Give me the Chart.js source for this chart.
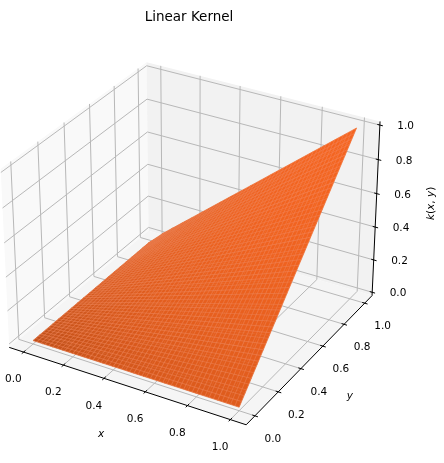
<!DOCTYPE html>
<html>
<head>
<meta charset="utf-8">
<script src="https://cdn.jsdelivr.net/npm/chart.js@4"></script>
<style>
  html, body { margin: 0; padding: 0; background: #fff; }
  canvas { display: block; }
</style>
</head>
<body>
<canvas id="chartCanvas" width="444" height="463"></canvas>
<script>
const tickValues = [0, 0.2, 0.4, 0.6, 0.8, 1];
const tickLabels = ['0.0', '0.2', '0.4', '0.6', '0.8', '1.0'];

// surface samples, one row per y
const gridX = [0, 0.05, 0.1, 0.15, 0.2, 0.25, 0.3, 0.35, 0.4, 0.45, 0.5, 0.55, 0.6, 0.65, 0.7, 0.75, 0.8, 0.85, 0.9, 0.95, 1];
const gridY = [0, 0.05, 0.1, 0.15, 0.2, 0.25, 0.3, 0.35, 0.4, 0.45, 0.5, 0.55, 0.6, 0.65, 0.7, 0.75, 0.8, 0.85, 0.9, 0.95, 1];
const surfaceZ = [
  [0, 0, 0, 0, 0, 0, 0, 0, 0, 0, 0, 0, 0, 0, 0, 0, 0, 0, 0, 0, 0],
  [0, .0025, .005, .0075, .01, .0125, .015, .0175, .02, .0225, .025, .0275, .03, .0325, .035, .0375, .04, .0425, .045, .0475, .05],
  [0, .005, .01, .015, .02, .025, .03, .035, .04, .045, .05, .055, .06, .065, .07, .075, .08, .085, .09, .095, .1],
  [0, .0075, .015, .0225, .03, .0375, .045, .0525, .06, .0675, .075, .0825, .09, .0975, .105, .1125, .12, .1275, .135, .1425, .15],
  [0, .01, .02, .03, .04, .05, .06, .07, .08, .09, .1, .11, .12, .13, .14, .15, .16, .17, .18, .19, .2],
  [0, .0125, .025, .0375, .05, .0625, .075, .0875, .1, .1125, .125, .1375, .15, .1625, .175, .1875, .2, .2125, .225, .2375, .25],
  [0, .015, .03, .045, .06, .075, .09, .105, .12, .135, .15, .165, .18, .195, .21, .225, .24, .255, .27, .285, .3],
  [0, .0175, .035, .0525, .07, .0875, .105, .1225, .14, .1575, .175, .1925, .21, .2275, .245, .2625, .28, .2975, .315, .3325, .35],
  [0, .02, .04, .06, .08, .1, .12, .14, .16, .18, .2, .22, .24, .26, .28, .3, .32, .34, .36, .38, .4],
  [0, .0225, .045, .0675, .09, .1125, .135, .1575, .18, .2025, .225, .2475, .27, .2925, .315, .3375, .36, .3825, .405, .4275, .45],
  [0, .025, .05, .075, .1, .125, .15, .175, .2, .225, .25, .275, .3, .325, .35, .375, .4, .425, .45, .475, .5],
  [0, .0275, .055, .0825, .11, .1375, .165, .1925, .22, .2475, .275, .3025, .33, .3575, .385, .4125, .44, .4675, .495, .5225, .55],
  [0, .03, .06, .09, .12, .15, .18, .21, .24, .27, .3, .33, .36, .39, .42, .45, .48, .51, .54, .57, .6],
  [0, .0325, .065, .0975, .13, .1625, .195, .2275, .26, .2925, .325, .3575, .39, .4225, .455, .4875, .52, .5525, .585, .6175, .65],
  [0, .035, .07, .105, .14, .175, .21, .245, .28, .315, .35, .385, .42, .455, .49, .525, .56, .595, .63, .665, .7],
  [0, .0375, .075, .1125, .15, .1875, .225, .2625, .3, .3375, .375, .4125, .45, .4875, .525, .5625, .6, .6375, .675, .7125, .75],
  [0, .04, .08, .12, .16, .2, .24, .28, .32, .36, .4, .44, .48, .52, .56, .6, .64, .68, .72, .76, .8],
  [0, .0425, .085, .1275, .17, .2125, .255, .2975, .34, .3825, .425, .4675, .51, .5525, .595, .6375, .68, .7225, .765, .8075, .85],
  [0, .045, .09, .135, .18, .225, .27, .315, .36, .405, .45, .495, .54, .585, .63, .675, .72, .765, .81, .855, .9],
  [0, .0475, .095, .1425, .19, .2375, .285, .3325, .38, .4275, .475, .5225, .57, .6175, .665, .7125, .76, .8075, .855, .9025, .95],
  [0, .05, .1, .15, .2, .25, .3, .35, .4, .45, .5, .55, .6, .65, .7, .75, .8, .85, .9, .95, 1]
];

// fine mesh lines, the far rim height of each one
const meshTicks = [0, .02, .04, .06, .08, .1, .12, .14, .16, .18, .2, .22, .24, .26, .28, .3, .32, .34, .36, .38, .4, .42, .44, .46, .48, .5, .52, .54, .56, .58, .6, .62, .64, .66, .68, .7, .72, .74, .76, .78, .8, .82, .84, .86, .88, .9, .92, .94, .96, .98, 1];
const meshRimZ = [0, .02, .04, .06, .08, .1, .12, .14, .16, .18, .2, .22, .24, .26, .28, .3, .32, .34, .36, .38, .4, .42, .44, .46, .48, .5, .52, .54, .56, .58, .6, .62, .64, .66, .68, .7, .72, .74, .76, .78, .8, .82, .84, .86, .88, .9, .92, .94, .96, .98, 1];

const xLim = [-0.0729, 1.0729];
const yLim = [-0.0729, 1.0729];
const zLim = [-0.0208, 1.0208];

// camera of a default 3d axes: elev 30, azim -60, dist 10
const W = 444, H = 463;
const pxScale = 2280, originX = 194, originY = 234.8;
const box = [1.1905, 1.1905, 0.8929];
const camU = [0.866, 0.5, 0];
const camV = [-0.25, 0.433, 0.866];
const camN = [0.433, -0.75, 0.5];
const camDist = 10;

function project(x, y, z) {
  const d = [
    box[0] * (x - xLim[0]) / (xLim[1] - xLim[0]) - box[0] / 2,
    box[1] * (y - yLim[0]) / (yLim[1] - yLim[0]) - box[1] / 2,
    box[2] * (z - zLim[0]) / (zLim[1] - zLim[0]) - box[2] / 2
  ];
  const dot = (a) => a[0] * d[0] + a[1] * d[1] + a[2] * d[2];
  const w = camDist - dot(camN);
  return { x: dot(camU) / w, y: dot(camV) / w, depth: w };
}

const drawn = [];

function addLine(points, color, width, seam) {
  drawn.push({
    data: points.map(p => project(p[0], p[1], p[2])),
    showLine: true,
    fill: false,
    borderColor: color,
    borderWidth: width,
    pointRadius: 0,
    clip: false,
    seam: !!seam
  });
}

function addPolygon(points, fillColor, edgeColor, edgeWidth) {
  const pts = points.concat([points[0]]);
  drawn.push({
    data: pts.map(p => project(p[0], p[1], p[2])),
    showLine: true,
    fill: 'shape',
    backgroundColor: fillColor,
    borderColor: edgeColor,
    borderWidth: edgeWidth,
    pointRadius: 0,
    clip: false
  });
}

// panes
const [x0, x1] = xLim, [y0, y1] = yLim, [z0, z1] = zLim;
addPolygon([[x0, y0, z0], [x0, y1, z0], [x0, y1, z1], [x0, y0, z1]], '#f9f9f9', '#f9f9f9', 0);
addPolygon([[x0, y1, z0], [x1, y1, z0], [x1, y1, z1], [x0, y1, z1]], '#f2f2f2', '#f2f2f2', 0);
addPolygon([[x0, y0, z0], [x1, y0, z0], [x1, y1, z0], [x0, y1, z0]], '#f5f5f5', '#f5f5f5', 0);

// grid
const gridColor = '#b8b8b8';
tickValues.forEach(t => {
  addLine([[t, y0, z0], [t, y1, z0], [t, y1, z1]], gridColor, 1);
  addLine([[x1, t, z0], [x0, t, z0], [x0, t, z1]], gridColor, 1);
  addLine([[x0, y0, t], [x0, y1, t], [x1, y1, t]], gridColor, 1);
});

// axis lines and tick marks
addLine([[x0, y0, z0], [x1, y0, z0], [x1, y1, z0], [x1, y1, z1]], '#000', 1);
tickValues.forEach(t => {
  addLine([[t, y0 - 0.014, z0], [t, y0 + 0.014, z0]], '#000', 1);
  addLine([[x1 - 0.012, t, z0], [x1 + 0.014, t, z0]], '#000', 1);
  addLine([[x1 - 0.012, y1, t], [x1 + 0.014, y1, t]], '#000', 1);
});

// surface, shaded from the face normal like mplot3d does
const baseColor = [248, 102, 32];
const light = [-0.667, -0.667, 0.333];

function shadeColor(a, b, c, d) {
  const u = [c[0] - a[0], c[1] - a[1], c[2] - a[2]];
  const v = [d[0] - b[0], d[1] - b[1], d[2] - b[2]];
  let n = [u[1] * v[2] - u[2] * v[1], u[2] * v[0] - u[0] * v[2], u[0] * v[1] - u[1] * v[0]];
  if (n[2] < 0) n = n.map(q => -q);
  const len = Math.hypot(n[0], n[1], n[2]);
  const s = (n[0] * light[0] + n[1] * light[1] + n[2] * light[2]) / len;
  const k = 0.3 + 0.7 * (s + 1) / 2;
  return `rgb(${baseColor.map(q => Math.round(q * k)).join(',')})`;
}

const faces = [];
const lastRow = gridY.length - 2;
for (let j = 0; j < gridY.length - 1; j++) {
  for (let i = 0; i < gridX.length - 1; i++) {
    const a = [gridX[i], gridY[j], surfaceZ[j][i]];
    const b = [gridX[i + 1], gridY[j], surfaceZ[j][i + 1]];
    const c = [gridX[i + 1], gridY[j + 1], surfaceZ[j + 1][i + 1]];
    const d = [gridX[i], gridY[j + 1], surfaceZ[j + 1][i]];
    const depth = project(a[0], a[1], a[2]).depth + project(c[0], c[1], c[2]).depth;
    // the far left corner looks rounded off in the picture
    const corners = (i === 0 && j === lastRow) ? [a, b, c] : [a, b, c, d];
    faces.push({ corners, color: shadeColor(a, b, c, d), depth });
  }
}
faces.sort((p, q) => q.depth - p.depth);
faces.forEach(f => addPolygon(f.corners, f.color, f.color, 0.6));

// light seams of the fine mesh, blended with lighten so crowded lines don't pile up
const seamColor = 'rgba(236,128,84,0.6)';
meshTicks.forEach((t, i) => {
  addLine([[t, 0, 0], [t, 1, meshRimZ[i]]], seamColor, 0.9, true);
  addLine([[0, t, 0], [1, t, meshRimZ[i]]], seamColor, 0.9, true);
});

// Chart.js paints the first dataset last
drawn.reverse();

const seamPlugin = {
  id: 'seamBlend',
  beforeDatasetDraw(chart, args) {
    if (chart.data.datasets[args.index].seam) chart.ctx.globalCompositeOperation = 'lighten';
  },
  afterDatasetDraw(chart) {
    chart.ctx.globalCompositeOperation = 'source-over';
  }
};

const font = 'DejaVu Sans';

function addText(ctx, text, x, y, size, style) {
  ctx.font = `${style || ''} ${size}px "${font}"`;
  ctx.fillText(text, x, y);
}

const labelsPlugin = {
  id: 'labels3d',
  afterDraw(chart) {
    const { ctx, scales } = chart;
    const at = (x, y, z, dx, dy) => {
      const p = project(x, y, z);
      return [scales.x.getPixelForValue(p.x) + dx, scales.y.getPixelForValue(p.y) + dy];
    };
    ctx.save();
    ctx.fillStyle = '#000';
    ctx.textAlign = 'center';
    ctx.textBaseline = 'middle';
    addText(ctx, 'Linear Kernel', 189, 17.5, 13.5);
    tickValues.forEach((t, i) => {
      const px = at(t, y0, z0, -10.2, 27.6);
      addText(ctx, tickLabels[i], px[0], px[1], 10.5);
      const py = at(x1, t, z0, 18, 23.4);
      addText(ctx, tickLabels[i], py[0], py[1], 10.5);
      const pz = at(x1, y1, t, 25.8, 1.4);
      addText(ctx, tickLabels[i], pz[0], pz[1], 10.5);
    });
    const lx = at(0.5, y0, z0, -23.6, 49);
    addText(ctx, 'x', lx[0], lx[1], 10.5, 'italic');
    const ly = at(x1, 0.5, z0, 38, 39);
    addText(ctx, 'y', ly[0], ly[1], 10.5, 'italic');

    // z label reads upwards, math italic letters with upright brackets
    const lz = at(x1, y1, 0.5, 55, -7);
    ctx.translate(lz[0], lz[1]);
    ctx.rotate(-Math.PI / 2);
    ctx.textAlign = 'left';
    const parts = [['k', 'italic'], ['(', ''], ['x', 'italic'], [', ', ''], ['y', 'italic'], [')', '']];
    let total = 0;
    parts.forEach(p => {
      ctx.font = `${p[1]} 10.5px "${font}"`;
      total += ctx.measureText(p[0]).width;
    });
    let cursor = -total / 2;
    parts.forEach(p => {
      addText(ctx, p[0], cursor, 0, 10.5, p[1]);
      cursor += ctx.measureText(p[0]).width;
    });
    ctx.restore();
  }
};

new Chart(document.getElementById('chartCanvas').getContext('2d'), {
  type: 'scatter',
  data: { datasets: drawn },
  options: {
    responsive: false,
    animation: false,
    devicePixelRatio: 1,
    events: [],
    layout: { padding: 0 },
    plugins: { legend: { display: false }, tooltip: { enabled: false }, title: { display: false } },
    scales: {
      x: { type: 'linear', display: false, min: -originX / pxScale, max: (W - originX) / pxScale },
      y: { type: 'linear', display: false, min: (originY - H) / pxScale, max: originY / pxScale }
    }
  },
  plugins: [seamPlugin, labelsPlugin]
});
</script>
</body>
</html>
